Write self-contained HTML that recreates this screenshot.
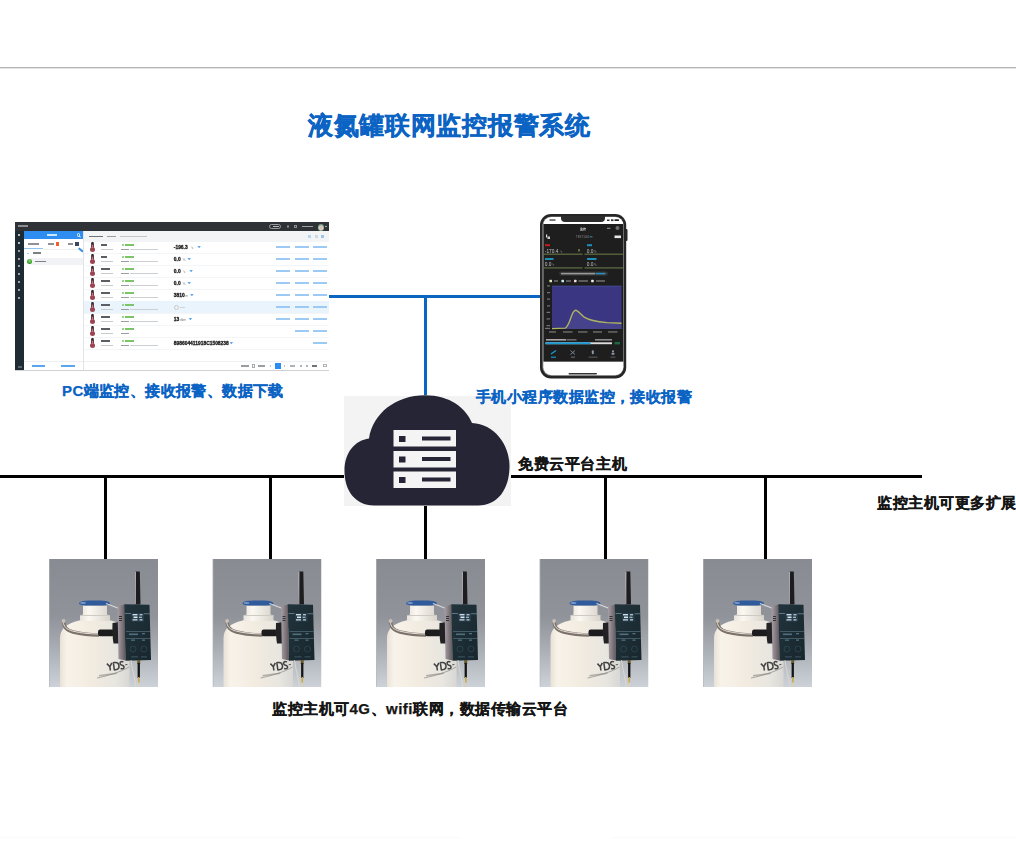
<!DOCTYPE html>
<html><head><meta charset="utf-8">
<style>
*{margin:0;padding:0;box-sizing:border-box}
html,body{width:1016px;height:860px;overflow:hidden;background:#fff}
body{position:relative;font-family:"Liberation Sans",sans-serif}
.a{position:absolute}
.t{position:absolute;white-space:nowrap;font-weight:bold;line-height:1}
.blue{color:#0b63c4}
.blk{color:#151515}
</style></head><body>
<!-- top rule -->
<div class="a" style="left:0;top:67px;width:1016px;height:1px;background:#b4b4b4"></div>
<div class="a" style="left:0;top:68px;width:1016px;height:1px;background:#e6e6e6"></div>

<!-- title -->
<div class="t blue" style="left:308px;top:113px;font-size:25px;letter-spacing:0.7px;-webkit-text-stroke:0.45px #0b63c4">液氮罐联网监控报警系统</div>

<div class="a" style="left:0;top:837px;width:460px;height:1px;background:#fafafa"></div>
<div class="a" style="left:612px;top:837px;width:404px;height:1px;background:#fafafa"></div>
<!-- lines -->
<div class="a" style="left:329px;top:295px;width:211px;height:3px;background:#0b66c2"></div>
<div class="a" style="left:424px;top:295px;width:3px;height:100px;background:#0b66c2"></div>
<div class="a" style="left:0;top:475px;width:922px;height:3px;background:#000"></div>
<div class="a" style="left:104px;top:475px;width:3px;height:84px;background:#000"></div>
<div class="a" style="left:269px;top:475px;width:3px;height:84px;background:#000"></div>
<div class="a" style="left:424px;top:500px;width:3px;height:59px;background:#000"></div>
<div class="a" style="left:604px;top:475px;width:3px;height:84px;background:#000"></div>
<div class="a" style="left:764px;top:475px;width:3px;height:84px;background:#000"></div>

<!-- cloud -->
<div class="a" style="left:344px;top:395.5px;width:167px;height:110.5px;background:#f3f3f3"></div>
<svg class="a" style="left:0;top:0" width="1016" height="860" viewBox="0 0 1016 860">
  <path fill="#262535" d="M374,505.5 C355,505.5 344.5,490 344.5,471 C344.5,452 355,440.5 369,438.5 C373,413 396,395.2 425,395.2 C450,395.2 466,408 472,423 C494,424 509.5,444 509.5,466 C509.5,489 498,505.5 478,505.5 Z"/>
  <g fill="#f4f4f4">
    <rect x="393.5" y="430" width="62.5" height="16.5"/>
    <rect x="393.5" y="451" width="62.5" height="16.5"/>
    <rect x="393.5" y="471.5" width="62.5" height="16.5"/>
  </g>
  <g fill="#262535">
    <rect x="399" y="436" width="6.5" height="6"/><rect x="422" y="436.5" width="28.5" height="4"/>
    <rect x="399" y="456.5" width="6.5" height="6"/><rect x="422" y="457" width="28.5" height="4"/>
    <rect x="399" y="477" width="6.5" height="6"/><rect x="422" y="477.5" width="28.5" height="4"/>
  </g>
</svg>

<!-- captions -->
<div class="t blue" style="left:62px;top:382.8px;font-size:15px;letter-spacing:0.4px;-webkit-text-stroke:0.25px #0b63c4">PC端监控、接收报警、数据下载</div>
<div class="t blue" style="left:476px;top:388.6px;font-size:15px;letter-spacing:0.45px;-webkit-text-stroke:0.25px #0b63c4">手机小程序数据监控，接收报警</div>
<div class="t blk" style="left:518px;top:456px;font-size:15px;letter-spacing:0.6px;-webkit-text-stroke:0.25px #151515">免费云平台主机</div>
<div class="t blk" style="left:877px;top:495px;font-size:15px;letter-spacing:0.5px;-webkit-text-stroke:0.25px #151515">监控主机可更多扩展</div>
<div class="t blk" style="left:272px;top:701px;font-size:15px;letter-spacing:0.5px;-webkit-text-stroke:0.25px #151515">监控主机可4G、wifi联网，数据传输云平台</div>

<!-- PC_START -->
<div class="a" style="left:15px;top:221.5px;width:314px;height:149.5px;background:#fff;overflow:hidden;filter:blur(0.35px)">
<div class="a" style="left:0.0px;top:0.0px;width:314.0px;height:9.5px;background:#2f3236;"></div>
<div class="a" style="left:3.0px;top:3.8px;width:10.0px;height:1.6px;background:#8a8d92;"></div>
<div class="a" style="left:254.2px;top:2.7px;width:12.2px;height:5.0px;background:transparent;border:0.8px solid #9a9da2;border-radius:2.5px"></div>
<div class="a" style="left:257.5px;top:4.7px;width:6.0px;height:1.2px;background:#b8bbbf;"></div>
<div class="a" style="left:271.5px;top:3.3px;width:2.4px;height:3.2px;background:transparent;border:0.7px solid #8c8f94;border-radius:1px"></div>
<div class="a" style="left:279.3px;top:3.1px;width:3.2px;height:3.0px;background:transparent;border:0.7px solid #8c8f94"></div>
<div class="a" style="left:287.0px;top:4.1px;width:11.0px;height:1.8px;background:#9fa2a7;"></div>
<div class="a" style="left:302.5px;top:2.5px;width:6.5px;height:6.5px;border-radius:50%;background:radial-gradient(circle at 50% 55%,#e5a89a 0,#d8d0c8 35%,#6a9a80 70%,#4d6a5e 100%)"></div>
<div class="a" style="left:310.0px;top:4.5px;width:1.6px;height:1.2px;background:#aaa;"></div>
<div class="a" style="left:0.0px;top:9.5px;width:8.6px;height:139.5px;background:#1f2b33;"></div>
<div class="a" style="left:3.4px;top:12.6px;width:2.0px;height:2.0px;background:#b9c0c5;"></div>
<div class="a" style="left:3.4px;top:20.6px;width:2.0px;height:2.0px;background:#b9c0c5;"></div>
<div class="a" style="left:3.4px;top:28.6px;width:2.0px;height:2.0px;background:#9aa2a8;"></div>
<div class="a" style="left:3.4px;top:36.1px;width:2.0px;height:2.0px;background:#9aa2a8;"></div>
<div class="a" style="left:3.4px;top:43.6px;width:2.0px;height:2.0px;background:#9aa2a8;"></div>
<div class="a" style="left:3.4px;top:51.6px;width:2.0px;height:2.0px;background:#9aa2a8;"></div>
<div class="a" style="left:3.4px;top:59.6px;width:2.0px;height:2.0px;background:#9aa2a8;"></div>
<div class="a" style="left:3.4px;top:67.1px;width:2.0px;height:2.0px;background:#9aa2a8;"></div>
<div class="a" style="left:3.4px;top:75.1px;width:2.0px;height:2.0px;background:#9aa2a8;"></div>
<div class="a" style="left:2.5px;top:144.5px;width:4.0px;height:1.5px;background:#59636b;"></div>
<div class="a" style="left:8.6px;top:9.5px;width:59.4px;height:139.5px;background:#fff;"></div>
<div class="a" style="left:8.6px;top:9.5px;width:59.4px;height:8.0px;background:#2e8df0;"></div>
<div class="a" style="left:32.0px;top:12.7px;width:10.0px;height:1.6px;background:#cfe6ff;"></div>
<div class="a" style="left:62px;top:11.8px;width:3.4px;height:3.4px;border:0.8px solid #e8f3ff;border-radius:50%"></div>
<div class="a" style="left:64.0px;top:14.3px;width:1.8px;height:0.8px;background:#e8f3ff;transform:rotate(45deg)"></div>
<div class="a" style="left:13.0px;top:21.9px;width:11.0px;height:1.8px;background:#8e9296;"></div>
<div class="a" style="left:33.0px;top:21.9px;width:5.5px;height:1.8px;background:#8e9296;"></div>
<div class="a" style="left:40.5px;top:20.7px;width:3.8px;height:3.6px;background:#f0602c;"></div>
<div class="a" style="left:52.5px;top:21.9px;width:5.5px;height:1.8px;background:#8e9296;"></div>
<div class="a" style="left:60.0px;top:20.7px;width:4.0px;height:3.6px;background:#3a4663;"></div>
<div class="a" style="left:9.0px;top:26.7px;width:19.0px;height:1.0px;background:#8fc3f5;"></div>
<div class="a" style="left:28.0px;top:27.0px;width:40.0px;height:0.5px;background:#eef0f2;"></div>
<div class="a" style="left:12.0px;top:31.7px;width:2.0px;height:0.8px;background:#a8c8e8;"></div>
<div class="a" style="left:18.0px;top:30.9px;width:8.0px;height:1.8px;background:#7c8085;"></div>
<div class="a" style="left:63px;top:27.4px;width:6px;height:1.6px;background:#3a8ee6;transform:rotate(40deg);border-radius:1px"></div>
<div class="a" style="left:14.5px;top:36.3px;width:53.5px;height:7.5px;background:#f0f2f5;"></div>
<div class="a" style="left:12px;top:37.6px;width:5.4px;height:4.6px;border-radius:50% 50% 45% 45%;background:radial-gradient(circle at 50% 35%,#8fd66a,#2f9a2a 70%)"></div>
<div class="a" style="left:19.5px;top:39.1px;width:11.0px;height:1.8px;background:#7c8085;"></div>
<div class="a" style="left:8.6px;top:139.5px;width:59.4px;height:0.5px;background:#eceef0;"></div>
<div class="a" style="left:17.0px;top:143.7px;width:13.0px;height:1.6px;background:#5aa5ef;"></div>
<div class="a" style="left:46.0px;top:143.7px;width:14.0px;height:1.6px;background:#5aa5ef;"></div>
<div class="a" style="left:68.0px;top:9.5px;width:0.9px;height:139.5px;background:#e2e4e7;"></div>
<div class="a" style="left:69.0px;top:9.5px;width:245.0px;height:10.5px;background:#f3f4f5;"></div>
<div class="a" style="left:74.0px;top:14.1px;width:14.0px;height:1.8px;background:#6f7378;"></div>
<div class="a" style="left:92.0px;top:14.1px;width:8.5px;height:1.6px;background:#9a9ea3;"></div>
<div class="a" style="left:105.0px;top:14.3px;width:27.0px;height:1.4px;background:#c2c5c9;"></div>
<div class="a" style="left:293.0px;top:13.0px;width:3.0px;height:3.0px;background:#b8d4f0;"></div>
<div class="a" style="left:299.5px;top:13.0px;width:3.0px;height:3.0px;background:#cfd8e2;"></div>
<div class="a" style="left:306.0px;top:13.0px;width:3.0px;height:3.0px;background:#9cc4ee;"></div>
<div class="a" style="left:69.0px;top:31.5px;width:245.0px;height:0.5px;background:#f4f5f6;"></div>
<div class="a" style="left:76.4px;top:20.5px;width:2.4px;height:6.0px;background:#5a4448;border-radius:1.2px"></div>
<div class="a" style="left:76.8px;top:20.5px;width:1.6px;height:1.6px;background:#2a2a2a;border-radius:0.8px"></div>
<div class="a" style="left:75.0px;top:25.3px;width:5.2px;height:5.2px;border-radius:50%;background:#9c4452"></div>
<div class="a" style="left:77.2px;top:23.0px;width:0.9px;height:3.0px;background:#d07080;"></div>
<div class="a" style="left:85.5px;top:22.7px;width:6.0px;height:1.8px;background:#5b5f64;"></div>
<div class="a" style="left:85.5px;top:27.1px;width:12.5px;height:1.2px;background:#c8cbce;"></div>
<div class="a" style="left:106.5px;top:22.9px;width:2.0px;height:1.6px;background:#9ad38a;"></div>
<div class="a" style="left:109.5px;top:22.9px;width:9.0px;height:1.6px;background:#7cc46a;"></div>
<div class="a" style="left:106.0px;top:27.1px;width:8.0px;height:1.4px;background:#9a9ea3;"></div>
<div class="a" style="left:115.0px;top:27.1px;width:28.0px;height:1.2px;background:#cdd0d3;"></div>
<div class="a" style="left:158.8px;top:24.3px;font-size:4.9px;line-height:1;color:#1a1a1a;white-space:nowrap;font-weight:bold;-webkit-text-stroke:0.3px #1a1a1a">-196.3</div>
<div class="a" style="left:175.7px;top:25.7px;font-size:3px;line-height:1;color:#777;white-space:nowrap;">°c</div>
<div class="a" style="left:182.3px;top:24.7px;width:3.6px;height:1.8px;background:#2d8cf0;clip-path:polygon(0 0,100% 0,50% 100%)"></div>
<div class="a" style="left:261.0px;top:24.6px;width:14.0px;height:1.9px;background:#9ccaf4;"></div>
<div class="a" style="left:280.0px;top:24.6px;width:14.0px;height:1.9px;background:#9ccaf4;"></div>
<div class="a" style="left:298.0px;top:24.6px;width:14.0px;height:1.9px;background:#9ccaf4;"></div>
<div class="a" style="left:69.0px;top:43.5px;width:245.0px;height:0.5px;background:#f4f5f6;"></div>
<div class="a" style="left:76.4px;top:32.5px;width:2.4px;height:6.0px;background:#5a4448;border-radius:1.2px"></div>
<div class="a" style="left:76.8px;top:32.5px;width:1.6px;height:1.6px;background:#2a2a2a;border-radius:0.8px"></div>
<div class="a" style="left:75.0px;top:37.3px;width:5.2px;height:5.2px;border-radius:50%;background:#9c4452"></div>
<div class="a" style="left:77.2px;top:35.0px;width:0.9px;height:3.0px;background:#d07080;"></div>
<div class="a" style="left:85.5px;top:34.7px;width:6.0px;height:1.8px;background:#5b5f64;"></div>
<div class="a" style="left:85.5px;top:39.1px;width:12.5px;height:1.2px;background:#c8cbce;"></div>
<div class="a" style="left:106.5px;top:34.9px;width:2.0px;height:1.6px;background:#9ad38a;"></div>
<div class="a" style="left:109.5px;top:34.9px;width:9.0px;height:1.6px;background:#7cc46a;"></div>
<div class="a" style="left:106.0px;top:39.1px;width:8.0px;height:1.4px;background:#9a9ea3;"></div>
<div class="a" style="left:115.0px;top:39.1px;width:28.0px;height:1.2px;background:#cdd0d3;"></div>
<div class="a" style="left:158.8px;top:36.3px;font-size:4.9px;line-height:1;color:#1a1a1a;white-space:nowrap;font-weight:bold;-webkit-text-stroke:0.3px #1a1a1a">0.0</div>
<div class="a" style="left:167.7px;top:37.7px;font-size:3px;line-height:1;color:#777;white-space:nowrap;">%</div>
<div class="a" style="left:172.4px;top:36.7px;width:3.6px;height:1.8px;background:#2d8cf0;clip-path:polygon(0 0,100% 0,50% 100%)"></div>
<div class="a" style="left:261.0px;top:36.6px;width:14.0px;height:1.9px;background:#9ccaf4;"></div>
<div class="a" style="left:280.0px;top:36.6px;width:14.0px;height:1.9px;background:#9ccaf4;"></div>
<div class="a" style="left:298.0px;top:36.6px;width:14.0px;height:1.9px;background:#9ccaf4;"></div>
<div class="a" style="left:69.0px;top:55.5px;width:245.0px;height:0.5px;background:#f4f5f6;"></div>
<div class="a" style="left:76.4px;top:44.5px;width:2.4px;height:6.0px;background:#5a4448;border-radius:1.2px"></div>
<div class="a" style="left:76.8px;top:44.5px;width:1.6px;height:1.6px;background:#2a2a2a;border-radius:0.8px"></div>
<div class="a" style="left:75.0px;top:49.3px;width:5.2px;height:5.2px;border-radius:50%;background:#9c4452"></div>
<div class="a" style="left:77.2px;top:47.0px;width:0.9px;height:3.0px;background:#d07080;"></div>
<div class="a" style="left:85.5px;top:46.7px;width:9.0px;height:1.8px;background:#5b5f64;"></div>
<div class="a" style="left:85.5px;top:51.1px;width:12.5px;height:1.2px;background:#c8cbce;"></div>
<div class="a" style="left:106.5px;top:46.9px;width:2.0px;height:1.6px;background:#9ad38a;"></div>
<div class="a" style="left:109.5px;top:46.9px;width:9.0px;height:1.6px;background:#7cc46a;"></div>
<div class="a" style="left:106.0px;top:51.1px;width:8.0px;height:1.4px;background:#9a9ea3;"></div>
<div class="a" style="left:115.0px;top:51.1px;width:28.0px;height:1.2px;background:#cdd0d3;"></div>
<div class="a" style="left:158.8px;top:48.3px;font-size:4.9px;line-height:1;color:#1a1a1a;white-space:nowrap;font-weight:bold;-webkit-text-stroke:0.3px #1a1a1a">0.0</div>
<div class="a" style="left:167.7px;top:49.7px;font-size:3px;line-height:1;color:#777;white-space:nowrap;">°c</div>
<div class="a" style="left:174.3px;top:48.7px;width:3.6px;height:1.8px;background:#2d8cf0;clip-path:polygon(0 0,100% 0,50% 100%)"></div>
<div class="a" style="left:261.0px;top:48.6px;width:14.0px;height:1.9px;background:#9ccaf4;"></div>
<div class="a" style="left:280.0px;top:48.6px;width:14.0px;height:1.9px;background:#9ccaf4;"></div>
<div class="a" style="left:298.0px;top:48.6px;width:14.0px;height:1.9px;background:#9ccaf4;"></div>
<div class="a" style="left:69.0px;top:67.5px;width:245.0px;height:0.5px;background:#f4f5f6;"></div>
<div class="a" style="left:76.4px;top:56.5px;width:2.4px;height:6.0px;background:#5a4448;border-radius:1.2px"></div>
<div class="a" style="left:76.8px;top:56.5px;width:1.6px;height:1.6px;background:#2a2a2a;border-radius:0.8px"></div>
<div class="a" style="left:75.0px;top:61.3px;width:5.2px;height:5.2px;border-radius:50%;background:#9c4452"></div>
<div class="a" style="left:77.2px;top:59.0px;width:0.9px;height:3.0px;background:#d07080;"></div>
<div class="a" style="left:85.5px;top:58.7px;width:9.0px;height:1.8px;background:#5b5f64;"></div>
<div class="a" style="left:85.5px;top:63.1px;width:12.5px;height:1.2px;background:#c8cbce;"></div>
<div class="a" style="left:106.5px;top:58.9px;width:2.0px;height:1.6px;background:#9ad38a;"></div>
<div class="a" style="left:109.5px;top:58.9px;width:9.0px;height:1.6px;background:#7cc46a;"></div>
<div class="a" style="left:106.0px;top:63.1px;width:8.0px;height:1.4px;background:#9a9ea3;"></div>
<div class="a" style="left:115.0px;top:63.1px;width:28.0px;height:1.2px;background:#cdd0d3;"></div>
<div class="a" style="left:158.8px;top:60.3px;font-size:4.9px;line-height:1;color:#1a1a1a;white-space:nowrap;font-weight:bold;-webkit-text-stroke:0.3px #1a1a1a">0.0</div>
<div class="a" style="left:167.7px;top:61.7px;font-size:3px;line-height:1;color:#777;white-space:nowrap;">%</div>
<div class="a" style="left:172.4px;top:60.7px;width:3.6px;height:1.8px;background:#2d8cf0;clip-path:polygon(0 0,100% 0,50% 100%)"></div>
<div class="a" style="left:261.0px;top:60.6px;width:14.0px;height:1.9px;background:#9ccaf4;"></div>
<div class="a" style="left:280.0px;top:60.6px;width:14.0px;height:1.9px;background:#9ccaf4;"></div>
<div class="a" style="left:298.0px;top:60.6px;width:14.0px;height:1.9px;background:#9ccaf4;"></div>
<div class="a" style="left:69.0px;top:79.5px;width:245.0px;height:0.5px;background:#f4f5f6;"></div>
<div class="a" style="left:76.4px;top:68.5px;width:2.4px;height:6.0px;background:#5a4448;border-radius:1.2px"></div>
<div class="a" style="left:76.8px;top:68.5px;width:1.6px;height:1.6px;background:#2a2a2a;border-radius:0.8px"></div>
<div class="a" style="left:75.0px;top:73.3px;width:5.2px;height:5.2px;border-radius:50%;background:#9c4452"></div>
<div class="a" style="left:77.2px;top:71.0px;width:0.9px;height:3.0px;background:#d07080;"></div>
<div class="a" style="left:85.5px;top:70.7px;width:9.0px;height:1.8px;background:#5b5f64;"></div>
<div class="a" style="left:85.5px;top:75.1px;width:12.5px;height:1.2px;background:#c8cbce;"></div>
<div class="a" style="left:106.5px;top:70.9px;width:2.0px;height:1.6px;background:#9ad38a;"></div>
<div class="a" style="left:109.5px;top:70.9px;width:9.0px;height:1.6px;background:#7cc46a;"></div>
<div class="a" style="left:106.0px;top:75.1px;width:8.0px;height:1.4px;background:#9a9ea3;"></div>
<div class="a" style="left:115.0px;top:75.1px;width:28.0px;height:1.2px;background:#cdd0d3;"></div>
<div class="a" style="left:158.8px;top:72.3px;font-size:4.9px;line-height:1;color:#1a1a1a;white-space:nowrap;font-weight:bold;-webkit-text-stroke:0.3px #1a1a1a">3810</div>
<div class="a" style="left:170.4px;top:73.7px;font-size:3px;line-height:1;color:#777;white-space:nowrap;">m</div>
<div class="a" style="left:175.1px;top:72.7px;width:3.6px;height:1.8px;background:#2d8cf0;clip-path:polygon(0 0,100% 0,50% 100%)"></div>
<div class="a" style="left:261.0px;top:72.6px;width:14.0px;height:1.9px;background:#9ccaf4;"></div>
<div class="a" style="left:280.0px;top:72.6px;width:14.0px;height:1.9px;background:#9ccaf4;"></div>
<div class="a" style="left:298.0px;top:72.6px;width:14.0px;height:1.9px;background:#9ccaf4;"></div>
<div class="a" style="left:69.0px;top:79.5px;width:245.0px;height:12.0px;background:#e9f4fd;"></div>
<div class="a" style="left:69.0px;top:91.5px;width:245.0px;height:0.5px;background:#f4f5f6;"></div>
<div class="a" style="left:76.4px;top:80.5px;width:2.4px;height:6.0px;background:#5a4448;border-radius:1.2px"></div>
<div class="a" style="left:76.8px;top:80.5px;width:1.6px;height:1.6px;background:#2a2a2a;border-radius:0.8px"></div>
<div class="a" style="left:75.0px;top:85.3px;width:5.2px;height:5.2px;border-radius:50%;background:#9c4452"></div>
<div class="a" style="left:77.2px;top:83.0px;width:0.9px;height:3.0px;background:#d07080;"></div>
<div class="a" style="left:85.5px;top:82.7px;width:9.0px;height:1.8px;background:#5b5f64;"></div>
<div class="a" style="left:85.5px;top:87.1px;width:12.5px;height:1.2px;background:#c8cbce;"></div>
<div class="a" style="left:106.5px;top:82.9px;width:2.0px;height:1.6px;background:#9ad38a;"></div>
<div class="a" style="left:109.5px;top:82.9px;width:9.0px;height:1.6px;background:#7cc46a;"></div>
<div class="a" style="left:106.0px;top:87.1px;width:8.0px;height:1.4px;background:#9a9ea3;"></div>
<div class="a" style="left:115.0px;top:87.1px;width:28.0px;height:1.2px;background:#cdd0d3;"></div>
<div class="a" style="left:158.5px;top:83.0px;width:5px;height:5px;border-radius:50%;border:0.8px solid #c8c8c8;background:#f2f2f2"></div>
<div class="a" style="left:165.0px;top:85.3px;width:5.0px;height:0.9px;background:#d0d3d6;"></div>
<div class="a" style="left:261.0px;top:84.6px;width:14.0px;height:1.9px;background:#9ccaf4;"></div>
<div class="a" style="left:280.0px;top:84.6px;width:14.0px;height:1.9px;background:#9ccaf4;"></div>
<div class="a" style="left:298.0px;top:84.6px;width:14.0px;height:1.9px;background:#9ccaf4;"></div>
<div class="a" style="left:69.0px;top:103.5px;width:245.0px;height:0.5px;background:#f4f5f6;"></div>
<div class="a" style="left:76.4px;top:92.5px;width:2.4px;height:6.0px;background:#5a4448;border-radius:1.2px"></div>
<div class="a" style="left:76.8px;top:92.5px;width:1.6px;height:1.6px;background:#2a2a2a;border-radius:0.8px"></div>
<div class="a" style="left:75.0px;top:97.3px;width:5.2px;height:5.2px;border-radius:50%;background:#9c4452"></div>
<div class="a" style="left:77.2px;top:95.0px;width:0.9px;height:3.0px;background:#d07080;"></div>
<div class="a" style="left:85.5px;top:94.7px;width:9.0px;height:1.8px;background:#5b5f64;"></div>
<div class="a" style="left:85.5px;top:99.1px;width:12.5px;height:1.2px;background:#c8cbce;"></div>
<div class="a" style="left:106.5px;top:94.9px;width:2.0px;height:1.6px;background:#9ad38a;"></div>
<div class="a" style="left:109.5px;top:94.9px;width:9.0px;height:1.6px;background:#7cc46a;"></div>
<div class="a" style="left:106.0px;top:99.1px;width:8.0px;height:1.4px;background:#9a9ea3;"></div>
<div class="a" style="left:115.0px;top:99.1px;width:28.0px;height:1.2px;background:#cdd0d3;"></div>
<div class="a" style="left:158.8px;top:96.3px;font-size:4.9px;line-height:1;color:#1a1a1a;white-space:nowrap;font-weight:bold;-webkit-text-stroke:0.3px #1a1a1a">13</div>
<div class="a" style="left:165.1px;top:97.7px;font-size:3px;line-height:1;color:#777;white-space:nowrap;">dbm</div>
<div class="a" style="left:173.6px;top:96.7px;width:3.6px;height:1.8px;background:#2d8cf0;clip-path:polygon(0 0,100% 0,50% 100%)"></div>
<div class="a" style="left:261.0px;top:96.6px;width:14.0px;height:1.9px;background:#9ccaf4;"></div>
<div class="a" style="left:280.0px;top:96.6px;width:14.0px;height:1.9px;background:#9ccaf4;"></div>
<div class="a" style="left:298.0px;top:96.6px;width:14.0px;height:1.9px;background:#9ccaf4;"></div>
<div class="a" style="left:69.0px;top:115.5px;width:245.0px;height:0.5px;background:#f4f5f6;"></div>
<div class="a" style="left:76.4px;top:104.5px;width:2.4px;height:6.0px;background:#5a4448;border-radius:1.2px"></div>
<div class="a" style="left:76.8px;top:104.5px;width:1.6px;height:1.6px;background:#2a2a2a;border-radius:0.8px"></div>
<div class="a" style="left:75.0px;top:109.3px;width:5.2px;height:5.2px;border-radius:50%;background:#9c4452"></div>
<div class="a" style="left:77.2px;top:107.0px;width:0.9px;height:3.0px;background:#d07080;"></div>
<div class="a" style="left:85.5px;top:106.7px;width:9.0px;height:1.8px;background:#5b5f64;"></div>
<div class="a" style="left:85.5px;top:111.1px;width:12.5px;height:1.2px;background:#c8cbce;"></div>
<div class="a" style="left:106.5px;top:106.9px;width:2.0px;height:1.6px;background:#9ad38a;"></div>
<div class="a" style="left:109.5px;top:106.9px;width:9.0px;height:1.6px;background:#7cc46a;"></div>
<div class="a" style="left:106.0px;top:111.1px;width:8.0px;height:1.4px;background:#9a9ea3;"></div>
<div class="a" style="left:280.0px;top:108.6px;width:14.0px;height:1.9px;background:#9ccaf4;"></div>
<div class="a" style="left:298.0px;top:108.6px;width:14.0px;height:1.9px;background:#9ccaf4;"></div>
<div class="a" style="left:69.0px;top:127.5px;width:245.0px;height:0.5px;background:#f4f5f6;"></div>
<div class="a" style="left:76.4px;top:116.5px;width:2.4px;height:6.0px;background:#5a4448;border-radius:1.2px"></div>
<div class="a" style="left:76.8px;top:116.5px;width:1.6px;height:1.6px;background:#2a2a2a;border-radius:0.8px"></div>
<div class="a" style="left:75.0px;top:121.3px;width:5.2px;height:5.2px;border-radius:50%;background:#9c4452"></div>
<div class="a" style="left:77.2px;top:119.0px;width:0.9px;height:3.0px;background:#d07080;"></div>
<div class="a" style="left:85.5px;top:118.7px;width:9.0px;height:1.8px;background:#5b5f64;"></div>
<div class="a" style="left:85.5px;top:123.1px;width:12.5px;height:1.2px;background:#c8cbce;"></div>
<div class="a" style="left:106.5px;top:118.9px;width:2.0px;height:1.6px;background:#9ad38a;"></div>
<div class="a" style="left:109.5px;top:118.9px;width:9.0px;height:1.6px;background:#7cc46a;"></div>
<div class="a" style="left:106.0px;top:123.1px;width:8.0px;height:1.4px;background:#9a9ea3;"></div>
<div class="a" style="left:115.0px;top:123.1px;width:28.0px;height:1.2px;background:#cdd0d3;"></div>
<div class="a" style="left:158.8px;top:120.3px;font-size:4.9px;line-height:1;color:#1a1a1a;white-space:nowrap;font-weight:bold;-webkit-text-stroke:0.3px #1a1a1a">898604411918C1508238</div>
<div class="a" style="left:214.5px;top:120.7px;width:3.6px;height:1.8px;background:#2d8cf0;clip-path:polygon(0 0,100% 0,50% 100%)"></div>
<div class="a" style="left:298.0px;top:120.6px;width:14.0px;height:1.9px;background:#9ccaf4;"></div>
<div class="a" style="left:226.0px;top:143.7px;width:8.0px;height:1.5px;background:#9a9ea3;"></div>
<div class="a" style="left:237.0px;top:142.0px;width:2.5px;height:4.5px;background:transparent;border:0.5px solid #aaa"></div>
<div class="a" style="left:243.0px;top:143.7px;width:7.0px;height:1.5px;background:#9a9ea3;"></div>
<div class="a" style="left:255.0px;top:143.7px;width:1.0px;height:1.4px;background:#c0c0c0;"></div>
<div class="a" style="left:260.0px;top:141.5px;width:5.5px;height:6.0px;background:#2d8cf0;"></div>
<div class="a" style="left:269.0px;top:143.7px;width:1.0px;height:1.4px;background:#c0c0c0;"></div>
<div class="a" style="left:275.0px;top:143.7px;width:5.0px;height:1.4px;background:#b0b3b6;"></div>
<div class="a" style="left:285.0px;top:143.7px;width:1.5px;height:1.4px;background:#b0b3b6;"></div>
<div class="a" style="left:291.0px;top:143.7px;width:1.5px;height:1.4px;background:#b0b3b6;"></div>
<div class="a" style="left:297.0px;top:143.5px;width:4.5px;height:1.8px;background:#707478;"></div>
<div class="a" style="left:308.0px;top:142.0px;width:3.5px;height:3.5px;background:transparent;border:0.6px solid #b0b3b6"></div>
<div class="a" style="left:69.0px;top:139.5px;width:245.0px;height:0.5px;background:#f0f1f3;"></div>
<div class="a" style="left:0.0px;top:148.0px;width:314.0px;height:1.5px;background:#cfd1d4;"></div>
</div>
<!-- PC_END -->
<!-- PHONE_START -->
<svg class="a" style="left:536px;top:208px;filter:blur(0.3px)" width="96" height="176" viewBox="536 208 96 176">
  <!-- body -->
  <rect x="625" y="229" width="2.5" height="12" rx="1" fill="#2a2a2a"/>
  <rect x="540" y="214" width="86.2" height="164.4" rx="11" fill="#262626"/>
  <rect x="542.3" y="216.6" width="81.6" height="159.2" rx="8.8" fill="#7a7a7a"/>
  <rect x="543.3" y="217" width="80" height="158.2" rx="8" fill="#fff"/>
  <rect x="542.3" y="224" width="81.7" height="137.5" fill="#6e6e6e"/>
  <!-- screen -->
  <rect x="543.8" y="224" width="79.2" height="137.5" fill="#1e1e1e"/>
  <!-- notch -->
  <path d="M561,216 L605,216 L605,218 Q605,222 601,222 L565,222 Q561,222 561,218 Z" fill="#2c2c2c"/>
  <rect x="549.5" y="219.3" width="6" height="1.5" fill="#555"/>
  <rect x="607" y="219.5" width="2.5" height="1.5" fill="#333"/>
  <rect x="611" y="219.3" width="2.5" height="1.8" fill="#333"/>
  <rect x="614.5" y="219.3" width="4.5" height="1.8" rx="0.6" fill="#222"/>
  <!-- home bar -->
  <rect x="568.5" y="373" width="28.5" height="1.6" rx="0.8" fill="#333"/>
  <!-- title bar -->
  <text x="579.8" y="229.8" font-family="Liberation Sans" font-size="3.4" font-weight="bold" fill="#d8d8d8">监控</text>
  <rect x="607" y="227.8" width="3.4" height="1" fill="#9a9a9a"/>
  <circle cx="617.5" cy="228" r="2" fill="#6e6e6e"/>
  <!-- device row -->
  <rect x="546" y="234.5" width="1.2" height="3" fill="#ddd"/>
  <rect x="547.5" y="236.5" width="2.5" height="2.5" fill="#ccc"/>
  <text x="576" y="238" font-family="Liberation Sans" font-size="2.8" fill="#8a8a8a">TEST1000</text>
  <rect x="590" y="236" width="2.5" height="1.5" fill="#2a6a8a"/>
  <rect x="614.5" y="235.5" width="6.5" height="2.6" fill="#e8e8e8"/>
  <!-- grid -->
  <rect x="545" y="244.2" width="5" height="2" fill="#c21d1d"/>
  <rect x="587" y="244.2" width="5" height="2" fill="#1f8fb8"/>
  
  
  
  
  <rect x="578" y="249" width="2" height="2.5" fill="#6a6a3a"/>
  <g font-family="Liberation Sans" fill="#c4c4c4">
    <text x="544.8" y="252.6" font-size="4.8">-170.4</text><text x="560" y="252.6" font-size="2.8" fill="#999">°c</text>
    <text x="586.8" y="252.6" font-size="4.8">0.0</text><text x="594" y="252.6" font-size="2.8" fill="#999">%</text>
    <text x="544.8" y="265.8" font-size="4.8">0.0</text><text x="552" y="265.8" font-size="2.8" fill="#999">°c</text>
    <text x="586.8" y="265.8" font-size="4.8">0.0</text><text x="594" y="265.8" font-size="2.8" fill="#999">%</text>
  </g>
  <rect x="544" y="253.6" width="38.5" height="1.2" fill="#5f7040"/>
  <rect x="584.5" y="253.6" width="38.5" height="1.2" fill="#5f7040"/>
  <rect x="545" y="258" width="8.5" height="2" fill="#1f8fb8"/>
  <rect x="587" y="258" width="9.5" height="2" fill="#1f8fb8"/>
  
  
  
  
  <rect x="544" y="267.3" width="38.5" height="1.2" fill="#5f7040"/>
  <rect x="584.5" y="267.3" width="38.5" height="1.2" fill="#5f7040"/>
  <!-- pill -->
  <rect x="559" y="271.5" width="49" height="4.2" rx="2.1" fill="#333"/>
  <rect x="561" y="272.8" width="34" height="1.6" fill="#9a9a9a"/>
  <rect x="595.5" y="272.8" width="10" height="1.6" fill="#2a90c0"/>
  <!-- legend -->
  <rect x="549.5" y="279.8" width="2.5" height="2.4" rx="0.5" fill="#e8edc0"/>
  <rect x="554" y="280.3" width="4" height="1.4" fill="#777"/>
  <rect x="561.5" y="279.8" width="2.5" height="2.4" rx="0.5" fill="#c8eef5"/>
  <rect x="566" y="280.3" width="5" height="1.4" fill="#777"/>
  <rect x="574" y="279.8" width="2.5" height="2.4" rx="0.5" fill="#f5dde5"/>
  <rect x="578.5" y="280.3" width="9.5" height="1.4" fill="#777"/>
  <rect x="591.2" y="279.8" width="2.5" height="2.4" rx="0.5" fill="#eee"/>
  <rect x="596" y="280.3" width="9" height="1.4" fill="#777"/>
  <!-- chart -->
  <rect x="552" y="285.8" width="69.5" height="43.2" fill="#3a3682"/>
  <rect x="552" y="285.8" width="69.5" height="0.7" fill="#43519c"/>
  <path d="M552,328.6 L565,328.1 C567.5,327.6 569.5,322 571.3,316.5 C572.8,312.2 574.3,310.3 575.8,310.3 C577.8,310.5 580,313.8 583.8,316.8 C588.8,320 597,321.7 607,322.6 L621.5,323.3 L621.5,329 L552,329 Z" fill="#46438c"/>
  <path d="M552,328.6 L565,328.1 C567.5,327.6 569.5,322 571.3,316.5 C572.8,312.2 574.3,310.3 575.8,310.3 C577.8,310.5 580,313.8 583.8,316.8 C588.8,320 597,321.7 607,322.6 L621.5,323.3" fill="none" stroke="#aeb35e" stroke-width="1.4"/>
  <g fill="#747474">
    <rect x="547" y="285.3" width="3" height="1.2"/>
    <rect x="547" y="292" width="3" height="1.2"/>
    <rect x="547" y="298.5" width="3" height="1.2"/>
    <rect x="547" y="305.3" width="3" height="1.2"/>
    <rect x="546.5" y="311.8" width="3.5" height="1.2"/>
    <rect x="546.5" y="318.3" width="3.5" height="1.2"/>
    <rect x="546.5" y="325" width="3.5" height="1.2"/>
    <rect x="545" y="327.8" width="5" height="1.2"/>
    <rect x="549" y="331.3" width="7" height="1.3"/>
    <rect x="563" y="331.3" width="9.5" height="1.3"/>
    <rect x="578" y="331.3" width="9.5" height="1.3"/>
    <rect x="593" y="331.3" width="9" height="1.3"/>
    <rect x="608" y="331.3" width="9.5" height="1.3"/>
  </g>
  <!-- progress -->
  <rect x="546" y="339" width="20" height="1.6" fill="#a8a8a8"/>
  <rect x="566.5" y="339" width="10" height="1.6" fill="#6a6a6a"/>
  <rect x="595" y="339" width="17" height="1.6" fill="#8a8a8a"/>
  <rect x="545.5" y="342.3" width="66.5" height="1.9" fill="#dcdcdc"/>
  <rect x="545.5" y="342.3" width="45" height="1.9" fill="#1a9bd5"/>
  <rect x="614.5" y="342" width="5.5" height="2.4" fill="#1a6a40"/>
  <!-- nav -->
  <path d="M551,354 L556,350.5" stroke="#1c9ad4" stroke-width="1.3"/>
  <rect x="551" y="356.5" width="5" height="1.5" fill="#1a7aa8"/>
  <path d="M570.5,350.5 L575,354.5 M575,350.5 L570.5,354.5" stroke="#8a9aa8" stroke-width="0.8"/>
  <rect x="571" y="356.5" width="4" height="1.4" fill="#5a5a5a"/>
  <rect x="591.8" y="350.3" width="2" height="4" rx="1" fill="#8a9aa8"/>
  <rect x="588.5" y="356.5" width="9" height="1.4" fill="#4a4a4a"/>
  <circle cx="613" cy="351.3" r="1.1" fill="#8a9aa8"/>
  <rect x="611.5" y="352.8" width="3" height="2" rx="0.8" fill="#8a9aa8"/>
  <rect x="610.5" y="356.5" width="5" height="1.4" fill="#4a4a4a"/>
</svg>

<!-- PHONE_END -->
<!-- TANKS_START -->
<svg class="a" style="left:0;top:0;filter:blur(0.3px)" width="1016" height="860" viewBox="0 0 1016 860">
<defs>
  <linearGradient id="bg" x1="0" y1="0" x2="0" y2="1">
    <stop offset="0" stop-color="#888b91"/>
    <stop offset="0.45" stop-color="#909399"/>
    <stop offset="0.7" stop-color="#a9adb4"/>
    <stop offset="1" stop-color="#cdd1d8"/>
  </linearGradient>
  <linearGradient id="body" x1="0" y1="0" x2="1" y2="0">
    <stop offset="0" stop-color="#e8e1d6"/>
    <stop offset="0.1" stop-color="#f8f3ea"/>
    <stop offset="0.45" stop-color="#f2ebe0"/>
    <stop offset="0.8" stop-color="#e8e6e0"/>
    <stop offset="1" stop-color="#d8d7d3"/>
  </linearGradient>
  <linearGradient id="neck" x1="0" y1="0" x2="1" y2="0">
    <stop offset="0" stop-color="#e8e4dc"/>
    <stop offset="0.3" stop-color="#fbf8f2"/>
    <stop offset="1" stop-color="#d8d4cc"/>
  </linearGradient>
  <linearGradient id="dev" x1="0" y1="0" x2="1" y2="1">
    <stop offset="0" stop-color="#22343c"/>
    <stop offset="1" stop-color="#18262d"/>
  </linearGradient>
  <linearGradient id="bez" x1="0" y1="0" x2="1" y2="0">
    <stop offset="0" stop-color="#a89fa6"/>
    <stop offset="1" stop-color="#5e585c"/>
  </linearGradient>
  <symbol id="tank" viewBox="0 0 109 128">
    <rect x="0" y="0" width="109" height="128" fill="url(#bg)"/>
    <rect x="0" y="0" width="1" height="128" fill="#b4b7bd" opacity="0.6"/>
    <!-- tank body -->
    <path d="M11,128 L11,79 C11,70 18,64 31,61.3 L61,61.3 C73,64 80.5,70 80.5,79 L80.5,128 Z" fill="url(#body)"/>
    <!-- neck -->
    <path d="M31,62 L31,56.5 L34,55.5 L34,46.5 L58,46.5 L58,55.5 L61,56.5 L61,62 Z" fill="url(#neck)"/>
    <rect x="31" y="56" width="30" height="1" fill="#cfcac2"/>
    <!-- lid -->
    <path d="M30,44.5 C30,42 36,41.5 45.3,41.5 C55,41.5 61,42 61,44.5 C61,46.3 55,46.6 45.3,46.6 C36,46.6 30,46.3 30,44.5 Z" fill="#2f5b9c"/>
    <ellipse cx="34" cy="44" rx="3" ry="1" fill="#9ab4dc" opacity="0.7"/>
    <!-- wire from lid to device -->
    <path d="M57,44.5 L70,49.5" stroke="#d8d8dc" stroke-width="1.2"/>
    <!-- handle -->
    <path d="M14.5,62.5 C15,68 17,71 24,73 C32,75 42,76 50,76" fill="none" stroke="#7a726b" stroke-width="3.4"/>
    <path d="M14.2,62.5 C14.7,67.5 16.8,70.2 24,72.2 C32,74.2 42,75 50,75" fill="none" stroke="#e6ded6" stroke-width="1"/>
    <circle cx="14.6" cy="62" r="1.9" fill="#c9bfb5"/>
    <!-- clamp -->
    <rect x="49" y="70.5" width="16" height="6.8" rx="2.2" fill="#1c1c1e"/>
    <path d="M63.5,64 L70.5,63 L71,84.5 L64.5,84.5 Q63,76 63.5,64 Z" fill="#222224"/>
    <!-- antenna -->
    <path d="M86.7,12.6 L90.8,12.6 L91.5,45.5 L86.2,45.5 Z" fill="#1d1d1f"/>
    <rect x="86" y="13" width="0.9" height="32" fill="#d8d4da" opacity="0.7"/>
    <!-- bezel -->
    <path d="M68.5,47.5 L75.5,45.5 L76.5,101.5 L69.5,100 Z" fill="url(#bez)"/>
    <rect x="70" y="57" width="3" height="1" fill="#333"/>
    <rect x="70" y="59" width="3" height="1" fill="#333"/>
    <rect x="70" y="61" width="3" height="1" fill="#333"/>
    <!-- device -->
    <path d="M75.3,45.3 L100.5,45.8 L102,101 L76.5,101.8 Z" fill="url(#dev)"/>
    <rect x="76" y="54.2" width="6" height="0.8" fill="#6a8a9a"/>
    <rect x="95" y="54.4" width="6" height="0.8" fill="#6a8a9a"/>
    <rect x="82.5" y="54" width="12.5" height="8.5" fill="#2a3e4a"/>
    <rect x="83.5" y="55" width="5" height="1.4" fill="#c8dcec"/>
    <rect x="90.5" y="55" width="3" height="1.4" fill="#a8c0d0"/>
    <rect x="84.5" y="57.5" width="4" height="1.6" fill="#d8e8f4"/>
    <rect x="90" y="57.7" width="3" height="1.2" fill="#a8c0d0"/>
    <rect x="83.5" y="60.2" width="5" height="1.3" fill="#c0d4e4"/>
    <rect x="90.5" y="60.2" width="3" height="1.3" fill="#b8ccdc"/>
    <rect x="77" y="72" width="24" height="0.6" fill="#5a7888"/>
    <rect x="77" y="79" width="24" height="0.6" fill="#5a7888"/>
    <rect x="80" y="74.5" width="9" height="1.6" fill="#4e7080"/>
    <rect x="93" y="74" width="3" height="1.3" fill="#4e7080"/>
    <rect x="82" y="80.5" width="4" height="1.3" fill="#4e7080"/>
    <rect x="93" y="80.5" width="3" height="1.3" fill="#4e7080"/>
    <circle cx="84" cy="90" r="3" fill="none" stroke="#36505c" stroke-width="0.6"/>
    <circle cx="95" cy="90" r="3" fill="none" stroke="#36505c" stroke-width="0.6"/>
    <rect x="82" y="97.5" width="7" height="0.8" fill="#46606c"/>
    <rect x="92" y="97.5" width="6" height="0.8" fill="#46606c"/>
    <!-- cable -->
    <rect x="88.2" y="101" width="3" height="4" fill="#6a5a30"/>
    <rect x="88.6" y="104" width="2.3" height="15" fill="#151515"/>
    <rect x="89" y="118" width="1.6" height="6" fill="#c9a84a"/>
    <rect x="89.3" y="123" width="0.9" height="5" fill="#e0d0a0"/>
    <path d="M82,101 C83,110 86,120 87,128" stroke="#e4dcc8" stroke-width="0.8" fill="none"/>
    <!-- text on body -->
    <g transform="rotate(-8 66 107)" fill="none" stroke="#444" stroke-width="1.55">
      <path d="M58.3,103.5 L60.8,107 L63.3,103.5 M60.8,107 L60.8,110.8"/>
      <path d="M64.8,103.5 L64.8,110.8 M64.2,103.5 L66,103.5 Q70,103.5 70,107.1 Q70,110.8 66,110.8 L64.2,110.8"/>
      <path d="M74.8,104.4 Q73.8,103.3 72.5,103.6 Q70.9,104.2 71.7,106 Q72.4,107 73.8,107.6 Q75.3,108.6 74.6,110.1 Q73.5,111.3 71.2,110.2"/>
      <path d="M76.2,107.3 L78.4,107.3" stroke-width="1"/>
    </g>
    <path d="M48,119 C58,117 72,113 80,108" stroke="#8a8a8a" stroke-width="0.7" fill="none"/>
    <rect x="50" y="115" width="18" height="1.5" fill="#8a8580" opacity="0.6" transform="rotate(-8 58 116)"/>
  </symbol>
</defs>
<use href="#tank" x="49" y="559" width="109" height="128"/>
<use href="#tank" x="212.5" y="559" width="109" height="128"/>
<use href="#tank" x="376" y="559" width="109" height="128"/>
<use href="#tank" x="539.5" y="559" width="109" height="128"/>
<use href="#tank" x="703" y="559" width="109" height="128"/>
</svg>

<!-- TANKS_END -->
</body></html>
